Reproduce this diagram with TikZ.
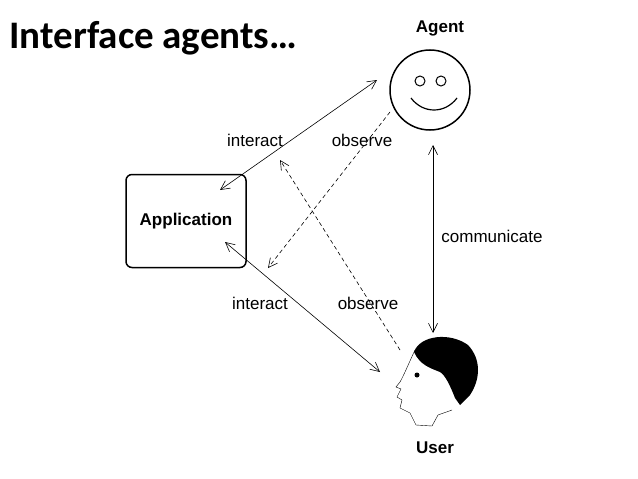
\documentclass[tikz,border=0pt]{standalone}
\usepackage{fontspec}
\setmainfont{Liberation Sans}
\newfontfamily\titlefont{Carlito}
\usetikzlibrary{arrows.meta}
\begin{document}
\begin{tikzpicture}[x=1pt,y=-1pt,
  lbl/.style={font=\fontsize{17}{19}\selectfont},
  conn/.style={semithick,{Straight Barb[length=9pt,width=9pt]}-{Straight Barb[length=9pt,width=9pt]}},
  obs/.style={semithick,dash pattern=on 4pt off 3pt,-{Straight Barb[length=9pt,width=9pt]}}]
\useasboundingbox (0,0) rectangle (638,479);
\node[font=\titlefont\bfseries\fontsize{39}{42}\selectfont,anchor=west] (title) at (6,38) {Interface agents…};
\node[font=\bfseries\fontsize{17}{19}\selectfont] (agentlbl) at (440,28) {Agent};
\node[circle,draw,line width=1.5pt,minimum size=80pt,inner sep=0] (agent) at (430,90) {};
\draw[line width=1pt] (420,81) circle (5pt) (441,81) circle (5pt);
\draw[line width=1.2pt] (411,98) .. controls (423,114) and (445,114) .. (457,98);
\node[draw,rounded corners=6pt,line width=1.5pt,minimum width=120pt,minimum height=93pt,font=\bfseries\fontsize{17}{19}\selectfont] (app) at (186,221) {Application};
\coordinate (aiT) at (220,190);
\coordinate (agT) at (377,80);
\coordinate (aiB) at (225,242);
\coordinate (usL) at (380,372);
\coordinate (agO) at (390,112);
\coordinate (apO) at (268,268);
\coordinate (usO) at (400,350);
\coordinate (apO2) at (280,160);
\coordinate (agC) at (433,145);
\coordinate (usC) at (433,333);
\draw[conn] (aiT) -- (agT);
\draw[conn] (aiB) -- (usL);
\draw[obs] (agO) -- (apO);
\draw[obs] (usO) -- (apO2);
\draw[conn] (agC) -- (usC);
\node[lbl] (l1) at (255,140) {interact};
\node[lbl] (l2) at (362,140) {observe};
\node[lbl] (l3) at (492,236) {communicate};
\node[lbl] (l4) at (260,303) {interact};
\node[lbl] (l5) at (368,303) {observe};
% user head
\draw[thin,fill=white] (415,350) .. controls (408,365) and (404,375) .. (400,382)
  -- (396,387) -- (401,389) -- (397,397) -- (402,400) -- (400,408) -- (410,413) -- (416,425) -- (432,426) -- (438,415) -- (452,410);
\fill (414,352) .. controls (420,335) and (450,332) .. (468,345)
  .. controls (482,360) and (480,380) .. (470,395)
  -- (460,405) -- (455,398) .. controls (450,385) and (445,375) .. (440,372)
  .. controls (430,368) and (420,365) .. (414,352);
\fill (417,375) circle (2.5pt);
\node[font=\bfseries\fontsize{17}{19}\selectfont] (userlbl) at (435,448) {User};
\end{tikzpicture}
\end{document}
